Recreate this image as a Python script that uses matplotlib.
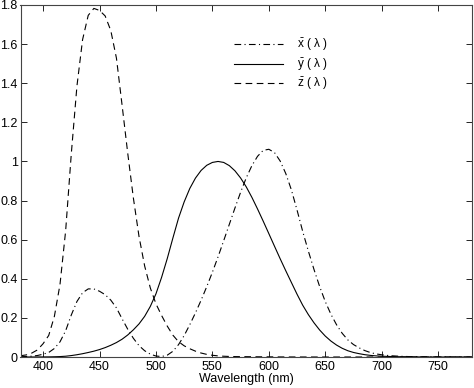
import matplotlib
matplotlib.use("Agg")
import matplotlib.pyplot as plt
import numpy as np

wavelength = list(range(380, 785, 5))
xbar = [0.001368, 0.002236, 0.004243, 0.007650, 0.014310, 0.023190, 0.043510, 0.077630,
        0.134380, 0.214770, 0.283900, 0.328500, 0.348280, 0.348060, 0.336200, 0.318700,
        0.290800, 0.251100, 0.195360, 0.142100, 0.095640, 0.057950, 0.032010, 0.014700,
        0.004900, 0.002400, 0.009300, 0.029100, 0.063270, 0.109600, 0.165500, 0.225750,
        0.290400, 0.359700, 0.433450, 0.512050, 0.594500, 0.678400, 0.762100, 0.842500,
        0.916300, 0.978600, 1.026300, 1.056700, 1.062200, 1.045600, 1.002600, 0.938400,
        0.854450, 0.751400, 0.642400, 0.541900, 0.447900, 0.360800, 0.283500, 0.218700,
        0.164900, 0.121200, 0.087400, 0.063600, 0.046770, 0.032900, 0.022700, 0.015840,
        0.011359, 0.008111, 0.005790, 0.004109, 0.002899, 0.002049, 0.001440, 0.001000,
        0.000690, 0.000476, 0.000332, 0.000235, 0.000166, 0.000117, 0.000083, 0.000059,
        0.000042]
ybar = [0.000039, 0.000064, 0.000120, 0.000217, 0.000396, 0.000640, 0.001210, 0.002180,
        0.004000, 0.007300, 0.011600, 0.016840, 0.023000, 0.029800, 0.038000, 0.048000,
        0.060000, 0.073900, 0.090980, 0.112600, 0.139020, 0.169300, 0.208020, 0.258600,
        0.323000, 0.407300, 0.503000, 0.608200, 0.710000, 0.793200, 0.862000, 0.914850,
        0.954000, 0.980300, 0.994950, 1.000000, 0.995000, 0.978600, 0.952000, 0.915400,
        0.870000, 0.816300, 0.757000, 0.694900, 0.631000, 0.566800, 0.503000, 0.441200,
        0.381000, 0.321000, 0.265000, 0.217000, 0.175000, 0.138200, 0.107000, 0.081600,
        0.061000, 0.044580, 0.032000, 0.023200, 0.017000, 0.011920, 0.008210, 0.005723,
        0.004102, 0.002929, 0.002091, 0.001484, 0.001047, 0.000740, 0.000520, 0.000361,
        0.000249, 0.000172, 0.000120, 0.000085, 0.000060, 0.000042, 0.000030, 0.000021,
        0.000015]
zbar = [0.006450, 0.010550, 0.020050, 0.036210, 0.067850, 0.110200, 0.207400, 0.371300,
        0.645600, 1.039050, 1.385600, 1.622960, 1.747060, 1.782600, 1.772110, 1.744100,
        1.669200, 1.528100, 1.287640, 1.041900, 0.812950, 0.616200, 0.465180, 0.353300,
        0.272000, 0.212300, 0.158200, 0.111700, 0.078250, 0.057250, 0.042160, 0.029840,
        0.020300, 0.013400, 0.008750, 0.005750, 0.003900, 0.002750, 0.002100, 0.001800,
        0.001650, 0.001400, 0.001100, 0.001000, 0.000800, 0.000600, 0.000340, 0.000240,
        0.000190, 0.000100, 0.000050, 0.000030, 0.000020, 0.000010] + [0.0] * 27

x_ticks = [400, 450, 500, 550, 600, 650, 700, 750]
y_ticks = [0, 0.2, 0.4, 0.6, 0.8, 1.0, 1.2, 1.4, 1.6, 1.8]
y_tick_labels = ["0", "0.2", "0.4", "0.6", "0.8", "1", "1.2", "1.4", "1.6", "1.8"]
legend_labels = [r"$\bar{\mathrm{x}}$ ( λ )", r"$\bar{\mathrm{y}}$ ( λ )", r"$\bar{\mathrm{z}}$ ( λ )"]

plt.rcParams['font.family'] = ['Liberation Sans', 'DejaVu Sans']
plt.rcParams['mathtext.fontset'] = 'custom'
plt.rcParams['mathtext.rm'] = 'Liberation Sans'
plt.rcParams['mathtext.it'] = 'Liberation Sans:italic'
plt.rcParams['mathtext.bf'] = 'Liberation Sans:bold'

fig = plt.figure(figsize=(4.74, 3.88), dpi=100)
W, H = 474, 388
ax = fig.add_axes([20.5 / W, (H - 357) / H, (472 - 20.5) / W, (357 - 5) / H])

ax.plot(wavelength, xbar, color='black', lw=0.8, linestyle=(0, (6, 3, 1, 3)), label=legend_labels[0])
ax.plot(wavelength, ybar, color='black', lw=0.8, linestyle='-', label=legend_labels[1])
ax.plot(wavelength, zbar, color='black', lw=0.8, linestyle=(0, (6, 4)), label=legend_labels[2])

ax.set_xlim(380, 780)
ax.set_ylim(0, 1.8)
ax.set_xticks(x_ticks)
ax.set_yticks(y_ticks)
ax.set_yticklabels(y_tick_labels)
ax.tick_params(direction='in', top=True, right=True, length=4, width=0.6,
               labelsize=9, pad=2, colors='black')
ax.tick_params(axis='x', pad=3)
for s in ax.spines.values():
    s.set_linewidth(0.8)
    s.set_color('#444444')
ax.set_xlabel("Wavelength (nm)", fontsize=9, labelpad=0)

leg = ax.legend(loc='upper left', bbox_to_anchor=(0.45, 0.94), frameon=False,
                fontsize=8.5, handlelength=4.1, handletextpad=1.2, labelspacing=0.28)

fig.savefig("out.png", dpi=100)
